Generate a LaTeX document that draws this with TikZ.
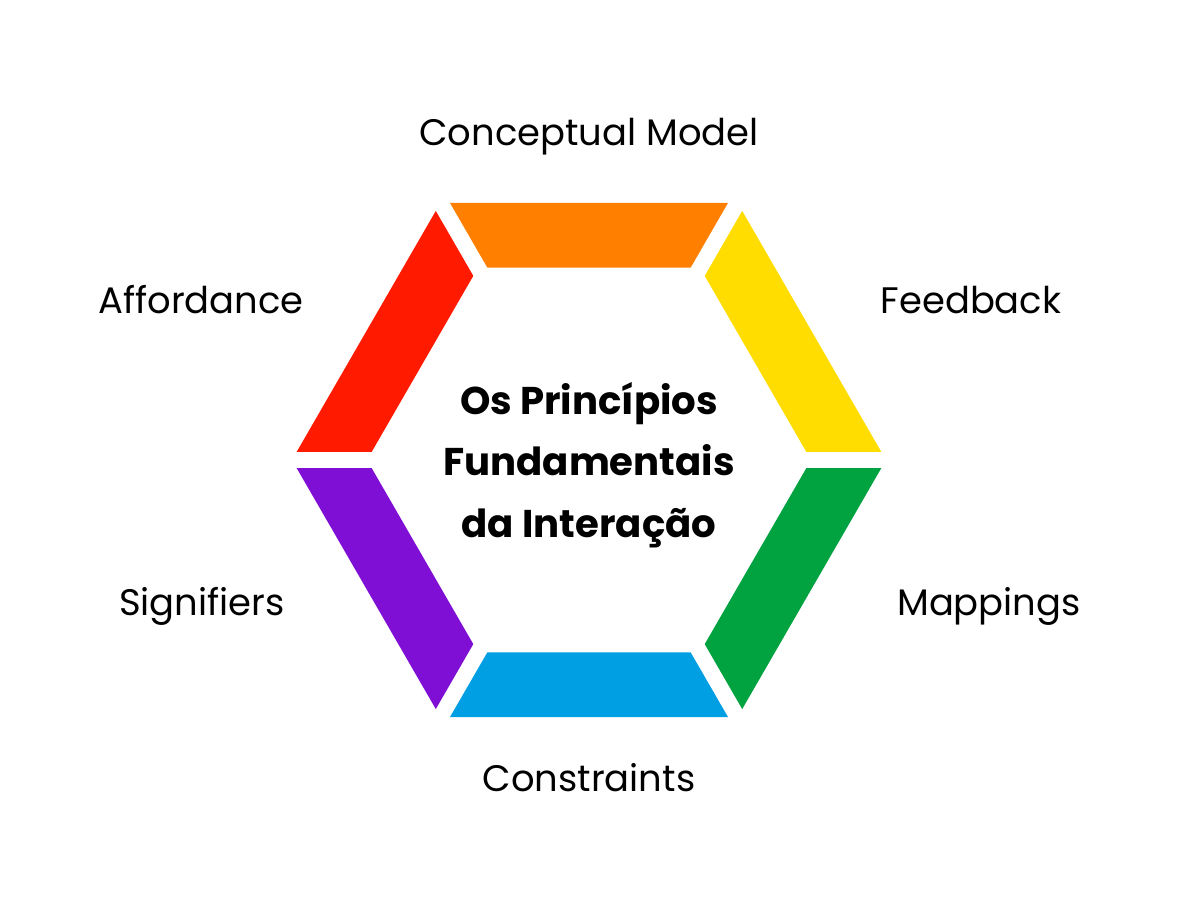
\documentclass[tikz,border=0pt]{standalone}
\usepackage{fontspec}
\setmainfont{Poppins}
\usetikzlibrary{positioning}
\definecolor{segorange}{HTML}{FF7F00}
\definecolor{segyellow}{HTML}{FFDD00}
\definecolor{segblue}{HTML}{009FE3}
\definecolor{seggreen}{HTML}{00A33F}
\definecolor{segpurple}{HTML}{800FD6}
\definecolor{segred}{HTML}{FF1A00}
\tikzset{
    principle/.style={font=\fontsize{21}{25}\selectfont},
    title/.style={font=\fontsize{22}{35}\selectfont\bfseries, align=center},
}
\begin{document}
\begin{tikzpicture}
    \useasboundingbox (-11.78,-9.2) rectangle (12.22,9.2);
    \pgfmathsetmacro{\Rout}{5.94}
    \pgfmathsetmacro{\Rin}{4.44}
    \foreach \a/\col[count=\n] in {0/segyellow,60/segorange,120/segred,180/segpurple,240/segblue,300/seggreen}{
            \fill [\col] (\a:\Rout) -- (\a+60:\Rout) -- (\a+60:\Rin) -- (\a:\Rin) -- cycle;
        }
    % white gaps at the corners
    \foreach \a in {0,60,...,300}{
            \draw [white,line width=0.32cm] (\a:\Rin-0.2) -- (\a:\Rout+0.3);
        }
    \node[title] (centre) at (0,-0.1) {Os Princípios\\Fundamentais\\da Interação};
    \node[principle] (concept) at (0,6.46) {Conceptual Model};
    \node[principle] (feedback) at (7.64,3.2) {Feedback};
    \node[principle] (mappings) at (8.0,-2.92) {Mappings};
    \node[principle] (constraints) at (0,-6.36) {Constraints};
    \node[principle] (signifiers) at (-7.74,-2.92) {Signifiers};
    \node[principle] (affordance) at (-7.76,3.2) {Affordance};
\end{tikzpicture}
\end{document}
